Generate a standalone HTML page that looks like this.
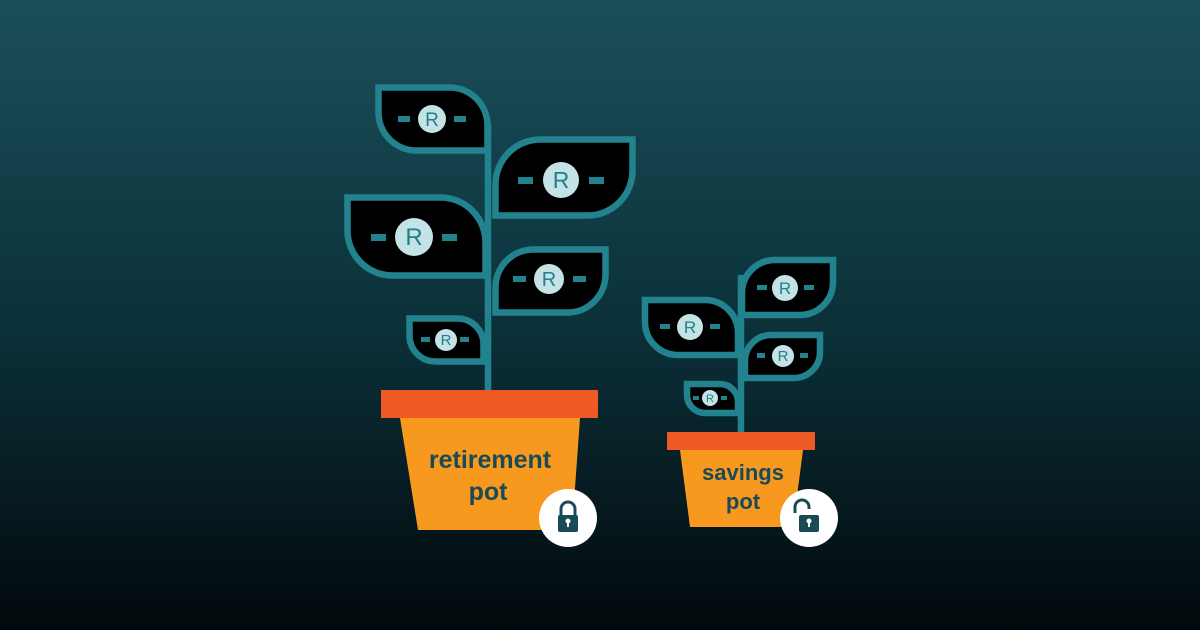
<!DOCTYPE html>
<html><head><style>html,body{margin:0;padding:0;width:1200px;height:630px;overflow:hidden}</style></head>
<body>
<svg width="1200" height="630" viewBox="0 0 1200 630" xmlns="http://www.w3.org/2000/svg">
<defs>
<linearGradient id="bg" x1="0" y1="0" x2="0" y2="1">
<stop offset="0" stop-color="#1c4f5a"/>
<stop offset="0.5" stop-color="#0b323b"/>
<stop offset="1" stop-color="#02090c"/>
</linearGradient>
</defs>
<rect width="1200" height="630" fill="url(#bg)"/>
<g stroke="#22838f" stroke-width="6.5" fill="#000">
<line x1="488" y1="125" x2="488" y2="392"/>
<line x1="741" y1="275" x2="741" y2="434"/>
<path d="M378.5,87.5 H449.5 A38,38 0 0 1 487.5,125.5 V150.5 H416.5 A38,38 0 0 1 378.5,112.5 Z"/>
<path d="M540.5,139.5 H632.5 V170.5 A45,45 0 0 1 587.5,215.5 H495.5 V184.5 A45,45 0 0 1 540.5,139.5 Z"/>
<path d="M347.5,197.5 H440.5 A45,45 0 0 1 485.5,242.5 V275.5 H392.5 A45,45 0 0 1 347.5,230.5 Z"/>
<path d="M533.5,249.5 H605.5 V274.5 A38,38 0 0 1 567.5,312.5 H495.5 V287.5 A38,38 0 0 1 533.5,249.5 Z"/>
<path d="M409.5,318.5 H457.5 A26,26 0 0 1 483.5,344.5 V361.5 H435.5 A26,26 0 0 1 409.5,335.5 Z"/>
<path d="M775,260 H833 V282 A33,33 0 0 1 800,315 H742 V293 A33,33 0 0 1 775,260 Z"/>
<path d="M645,300 H705 A33,33 0 0 1 738,333 V355 H678 A33,33 0 0 1 645,322 Z"/>
<path d="M771,335 H820 V352 A26,26 0 0 1 794,378 H745 V361 A26,26 0 0 1 771,335 Z"/>
<path d="M687,384 H720 A18,18 0 0 1 738,402 V413 H705 A18,18 0 0 1 687,395 Z"/>
</g>
<g fill="#22838f">
<rect x="398" y="116" width="12" height="6"/><rect x="454" y="116" width="12" height="6"/>
<rect x="518" y="177" width="15" height="7"/><rect x="589" y="177" width="15" height="7"/>
<rect x="371" y="234" width="15" height="7"/><rect x="442" y="234" width="15" height="7"/>
<rect x="513" y="276" width="13" height="6"/><rect x="573" y="276" width="13" height="6"/>
<rect x="421" y="337" width="9" height="5"/><rect x="460" y="337" width="9" height="5"/>
<rect x="757" y="285" width="10" height="5"/><rect x="804" y="285" width="10" height="5"/>
<rect x="660" y="324" width="10" height="5"/><rect x="710" y="324" width="10" height="5"/>
<rect x="757" y="353" width="8" height="5"/><rect x="800" y="353" width="8" height="5"/>
<rect x="693" y="396" width="6" height="4"/><rect x="721" y="396" width="6" height="4"/>
</g>
<g fill="#c5e3e6">
<circle cx="432" cy="119" r="14"/><circle cx="561" cy="180" r="18"/><circle cx="414" cy="237" r="19"/>
<circle cx="549" cy="279" r="15"/><circle cx="446" cy="340" r="11"/>
<circle cx="785" cy="288" r="13"/><circle cx="690" cy="327" r="13"/><circle cx="783" cy="356" r="11"/><circle cx="710" cy="398" r="8"/>
</g>
<g fill="#1f7f8a" font-family="Liberation Sans, sans-serif" text-anchor="middle">
<text x="432" y="126" font-size="19">R</text>
<text x="561" y="188" font-size="23">R</text>
<text x="414" y="245" font-size="24">R</text>
<text x="549" y="286" font-size="20">R</text>
<text x="446" y="345" font-size="15">R</text>
<text x="785" y="294" font-size="17">R</text>
<text x="690" y="333" font-size="17">R</text>
<text x="783" y="361" font-size="15">R</text>
<text x="710" y="402" font-size="11">R</text>
</g>
<polygon points="400,418 580,418 572,530 418,530" fill="#f7981f"/>
<rect x="381" y="390" width="217" height="28" fill="#ee5a25"/>
<polygon points="680,450 803,450 793,527 690,527" fill="#f7981f"/>
<rect x="667" y="432" width="148" height="18" fill="#ee5a25"/>
<g fill="#1b4a57" font-family="Liberation Sans, sans-serif" font-weight="bold" text-anchor="middle">
<text x="490" y="468" font-size="25">retirement</text>
<text x="488" y="500" font-size="25">pot</text>
<text x="743" y="480" font-size="22">savings</text>
<text x="743" y="509" font-size="22">pot</text>
</g>
<circle cx="568" cy="518" r="29" fill="#fff"/>
<circle cx="809" cy="518" r="29" fill="#fff"/>
<g fill="none" stroke="#1b4a57" stroke-width="3">
<path d="M561,516 V509 A7,7 0 0 1 575,509 V516"/>
<path d="M802,516 V510 A7,7 0 0 1 816,510 V512" transform="translate(-7,-3)"/>
</g>
<g fill="#1b4a57">
<rect x="558" y="515" width="20" height="17" rx="2"/>
<rect x="799" y="515" width="20" height="17" rx="2"/>
</g>
<g fill="#fff">
<circle cx="568" cy="521" r="2.5"/><rect x="567" y="521" width="2" height="6"/>
<circle cx="809" cy="521" r="2.5"/><rect x="808" y="521" width="2" height="6"/>
</g>
</svg>
</body></html>
